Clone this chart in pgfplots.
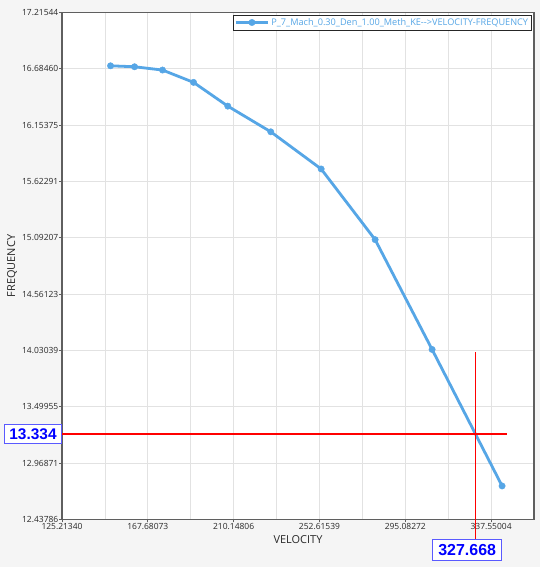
\documentclass[border=0pt]{standalone}
\usepackage{fontspec}
\setmainfont{Open Sans}
\newfontfamily\boxfont{Liberation Sans}
\usepackage{pgfplots}
\pgfplotsset{compat=1.18}
\definecolor{bg}{RGB}{245,245,245}
\definecolor{ser}{RGB}{86,166,230}
\definecolor{gridc}{RGB}{226,226,226}
\definecolor{axc}{RGB}{95,95,95}
\definecolor{txt}{RGB}{40,40,40}
\definecolor{lblue}{RGB}{0,0,255}
\definecolor{bblue}{RGB}{90,90,255}
\pgfplotstableread{
x y
149.23 16.713
161.10 16.704
174.95 16.673
190.29 16.557
207.25 16.333
228.52 16.091
253.45 15.741
280.16 15.075
308.35 14.040
342.98 12.754
}\datatable
\begin{document}
\begin{tikzpicture}[x=1bp,y=1bp]
\fill[bg] (0,0) rectangle (540,567);
\useasboundingbox (0,0) rectangle (540,567);
\begin{axis}[
  at={(62bp,47.5bp)}, anchor=south west,
  scale only axis, width=472bp, height=507bp,
  xmin=125.21340, xmax=358.78, ymin=12.43786, ymax=17.21544,
  xtick={125.21340,167.68073,210.14806,252.61539,295.08272,337.55004},
  xticklabels={125.21340,167.68073,210.14806,252.61539,295.08272,337.55004},
  ytick={12.43786,12.96871,13.49955,14.03039,14.56123,15.09207,15.62291,16.15375,16.68460,17.21544},
  yticklabels={12.43786,12.96871,13.49955,14.03039,14.56123,15.09207,15.62291,16.15375,16.68460,17.21544},
  minor x tick num=1,
  grid=both,
  major grid style={gridc, line width=0.8bp},
  minor grid style={gridc, line width=0.8bp},
  axis background/.style={fill=white},
  axis line style={axc, line width=1.1bp},
  tick style={axc, line width=0.8bp},
  tick align=outside, major tick length=3bp, minor tick length=0bp,
  xtick pos=bottom, ytick pos=left,
  /pgf/number format/assume math mode=true,
  ticklabel style={font=\fontsize{8.5}{10}\selectfont, text=txt},
  xticklabel style={inner sep=1bp},
  yticklabel style={inner sep=0.5bp},
  xlabel={VELOCITY}, ylabel={FREQUENCY},
  every axis x label/.style={at={(axis description cs:0.5,0)}, yshift=-20bp, anchor=center, font=\fontsize{11}{12}\selectfont, text=txt},
  every axis y label/.style={at={(axis description cs:0,0.5)}, xshift=-50bp, rotate=90, anchor=center, font=\fontsize{11}{12}\selectfont, text=txt},
  legend style={at={(rel axis cs:1,1)}, xshift=-2.3bp, yshift=-2.2bp, anchor=north east,
    draw=black!85, line width=0.8bp, fill=white, text=ser,
    font=\fontsize{9.2}{10}\selectfont, inner sep=1.2bp},
  legend image code/.code={\draw[mark repeat=2,mark phase=2,#1] plot coordinates {(0bp,0bp) (16bp,0bp) (32bp,0bp)};},
  clip=false,
]
\addplot[color=ser, line width=2.8bp, mark=*, mark size=3.2bp, mark options={solid, fill=ser, draw=ser, line width=0.4bp}] table[x=x,y=y] {\datatable};
\addlegendentry{P\_7\_Mach\_0.30\_Den\_1.00\_Meth\_KE-{}->VELOCITY-FREQUENCY}
\addplot[forget plot, no markers, fill=red, draw=none] coordinates {(125.2134,13.2388) (345.6,13.2388) (345.6,13.2492) (125.2134,13.2492)} -- cycle;
\addplot[forget plot, no markers, fill=red, draw=none] coordinates {(329.65,12.2) (330.19,12.2) (330.19,14.012) (329.65,14.012)} -- cycle;
\node[anchor=east, draw=bblue, fill=white, line width=0.8bp, text=lblue, font=\boxfont\bfseries\fontsize{15.5}{16}\selectfont, inner xsep=5bp, inner ysep=0bp, minimum height=19.5bp] at (axis cs:125.2134,13.244) {13.334};
\node[anchor=north, draw=bblue, fill=white, line width=0.8bp, text=lblue, font=\boxfont\bfseries\fontsize{16}{17}\selectfont, inner xsep=5.5bp, inner ysep=0bp, minimum height=21.3bp, xshift=-8.5bp, yshift=-19.5bp] at (axis cs:329.92,12.43786) {327.668};
\end{axis}
\end{tikzpicture}
\end{document}
